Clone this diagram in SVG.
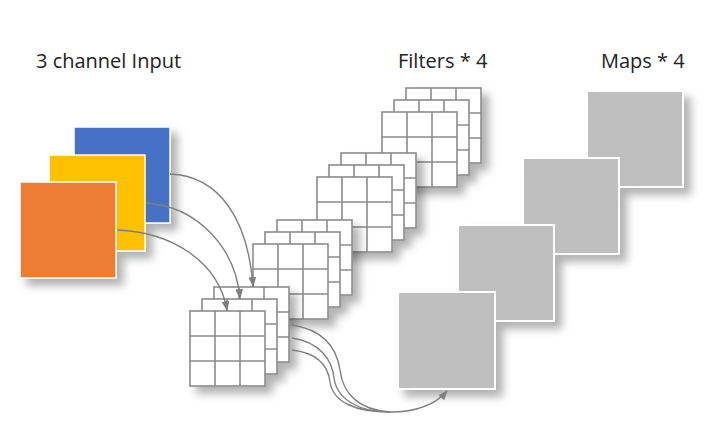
<svg xmlns="http://www.w3.org/2000/svg" width="715" height="430" viewBox="0 0 715 430">
<style>
text{font-family:"Open Sans","Liberation Sans",sans-serif;font-size:20px;fill:#222}
.g{fill:#fff;stroke:#8c8c8c;stroke-width:1.6}
.m{fill:#bfbfbf;stroke:#fff;stroke-width:2}
.c{fill:none;stroke:#7f7f7f;stroke-width:1.4}
</style>
<defs>
<filter id="sh" x="-20%" y="-20%" width="160%" height="160%"><feDropShadow dx="7" dy="7" stdDeviation="4" flood-color="#000" flood-opacity="0.3"/></filter>
<marker id="ah" viewBox="0 0 10 10" refX="9" refY="5" markerWidth="7" markerHeight="7" orient="auto"><path d="M0,1 L10,5 L0,9 z" fill="#7f7f7f"/></marker>
<g id="grid"><rect class="g" width="75" height="75"/><path class="g" d="M25,0V75M50,0V75M0,25H75M0,50H75"/></g>
<g id="stack" filter="url(#sh)"><use href="#grid" x="24" y="-24"/><use href="#grid" x="12" y="-12"/><use href="#grid"/></g>
</defs>
<text x="36" y="68">3 channel Input</text>
<text x="398" y="68">Filters * 4</text>
<text x="601" y="68">Maps * 4</text>
<g id="input" filter="url(#sh)">
<rect x="74" y="127" width="96" height="96" fill="#4472c4" stroke="#fff" stroke-width="1.5"/>
<rect x="49" y="155" width="96" height="96" fill="#ffc000" stroke="#fff" stroke-width="1.5"/>
<rect x="20" y="182" width="96" height="96" fill="#ed7d31" stroke="#fff" stroke-width="1.5"/>
</g>
<g id="filter4"><use href="#stack" x="382" y="112"/></g>
<g id="filter3"><use href="#stack" x="317" y="177"/></g>
<g id="filter2"><use href="#stack" x="253" y="244"/></g>
<g id="filter1"><use href="#stack" x="190" y="311"/></g>
<g id="maps" filter="url(#sh)">
<rect class="m" x="587" y="91" width="96" height="96"/>
<rect class="m" x="523" y="158" width="96" height="96"/>
<rect class="m" x="458" y="225" width="96" height="96"/>
<rect class="m" x="398" y="292" width="97" height="97"/>
</g>
<g id="connectors">
<path class="c" marker-end="url(#ah)" d="M170,174 C220,176 248,220 253,286"/>
<path class="c" marker-end="url(#ah)" d="M146,203 C195,206 235,245 240,298"/>
<path class="c" marker-end="url(#ah)" d="M117,230 C170,232 218,260 227,310"/>
<path class="c" d="M292,325 C325,330 337,350 340,370 C343,395 360,410 390,412"/>
<path class="c" d="M292,338 C320,342 332,360 334,378 C337,400 360,412 390,412"/>
<path class="c" marker-end="url(#ah)" d="M292,350 C318,353 328,365 330,382 C333,402 355,412 390,412 C415,412 435,405 447,391"/>
</g>
</svg>
